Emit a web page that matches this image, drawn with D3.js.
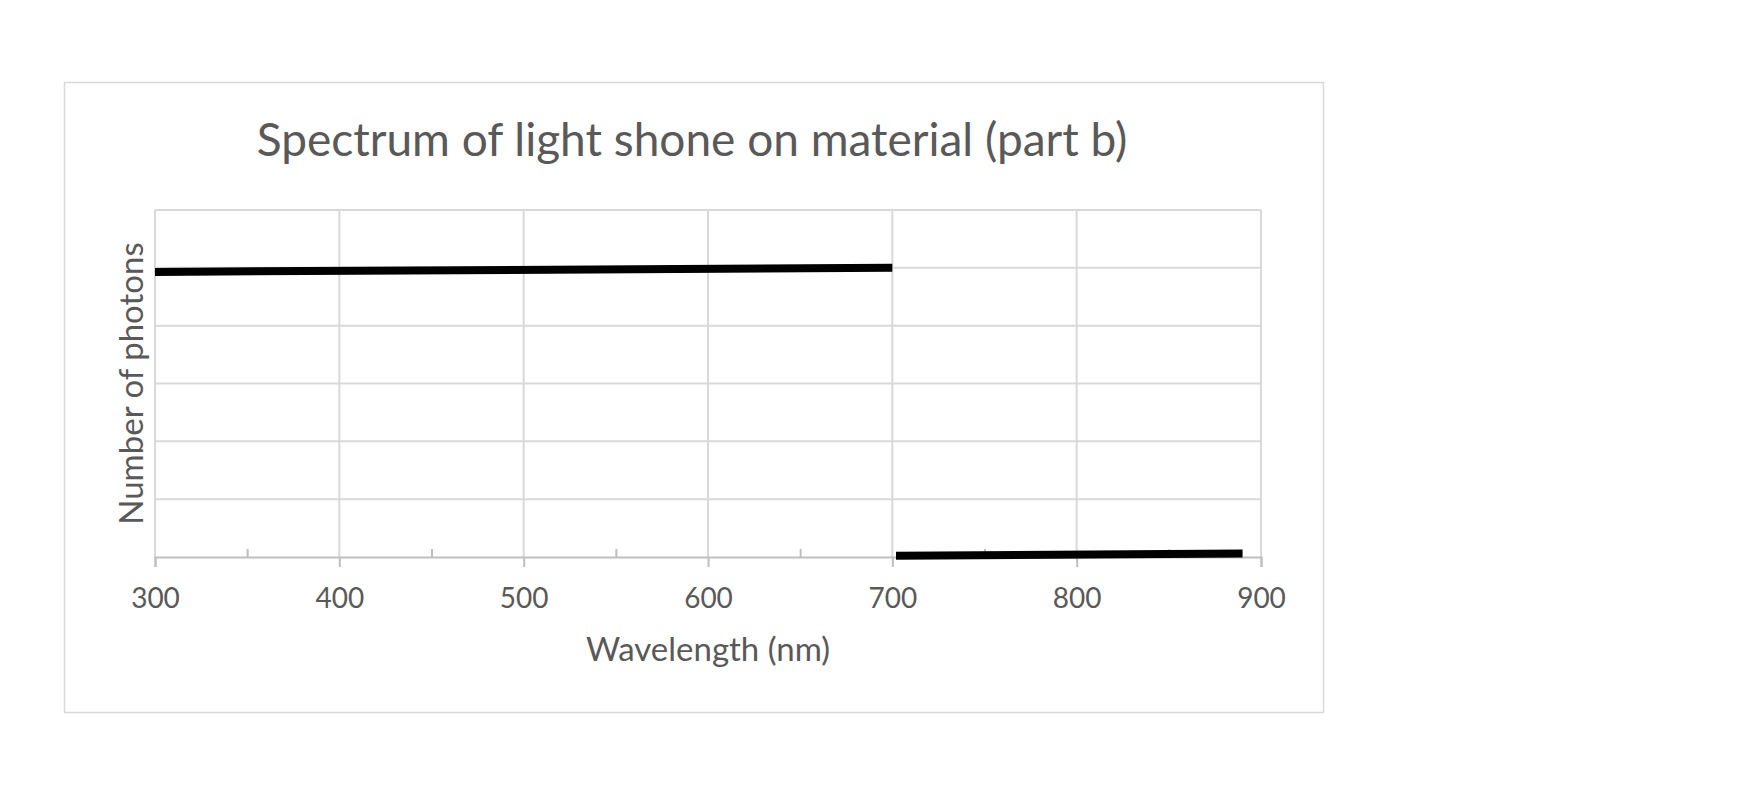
<!DOCTYPE html>
<html>
<head>
<meta charset="utf-8">
<script src="https://cdn.jsdelivr.net/npm/d3@7"></script>
<style>
  html, body { margin: 0; padding: 0; background: #ffffff; }
  svg { display: block; }
  text { font-family: Lato, "Open Sans", sans-serif; fill: #595959; }
</style>
</head>
<body>
<svg id="chart" width="1739" height="798"></svg>
<script>
// ---- data ----
const chartTitle = "Spectrum of light shone on material (part b)";
const xAxisTitle = "Wavelength (nm)";
const yAxisTitle = "Number of photons";
const xTickValues = [300, 400, 500, 600, 700, 800, 900];
const xMinorTickValues = [350, 450, 550, 650, 750, 850];
const yGridValues = [0, 1, 2, 3, 4, 5, 6];
// series: two separate segments of the spectrum
const visibleWavelengths = [300, 700];
const visiblePhotons = [4.93, 5.0];
const infraredWavelengths = [702, 890];
const infraredPhotons = [0.02, 0.06];

// ---- layout ----
const svg = d3.select("#chart");
const W = 1739, H = 798;
const frame = { x: 64, y: 82, w: 1259, h: 630 };
const plot = { left: 155, right: 1261, top: 210, bottom: 557 };

svg.append("rect").attr("x", 0).attr("y", 0).attr("width", W).attr("height", H).attr("fill", "#ffffff");
svg.append("rect")
  .attr("x", frame.x + 0.5).attr("y", frame.y + 0.5)
  .attr("width", frame.w).attr("height", frame.h)
  .attr("fill", "#ffffff").attr("stroke", "#d9d9d9").attr("stroke-width", 1.5);

const x = d3.scaleLinear().domain([300, 900]).range([plot.left, plot.right]);
const y = d3.scaleLinear().domain([0, 6]).range([plot.bottom, plot.top]);

// horizontal gridlines
svg.append("g")
  .selectAll("line").data(yGridValues.filter(v => v > 0)).join("line")
  .attr("x1", plot.left).attr("x2", plot.right)
  .attr("y1", d => y(d)).attr("y2", d => y(d))
  .attr("stroke", "#d9d9d9").attr("stroke-width", 2);

// vertical gridlines
svg.append("g")
  .selectAll("line").data(xTickValues).join("line")
  .attr("x1", d => x(d)).attr("x2", d => x(d))
  .attr("y1", plot.top).attr("y2", plot.bottom)
  .attr("stroke", "#d9d9d9").attr("stroke-width", 2);

// x axis (major ticks below)
const xAxis = d3.axisBottom(x).tickValues(xTickValues).tickSize(10).tickPadding(21).tickFormat(d3.format("d"));
const gx = svg.append("g").attr("transform", `translate(0,${plot.bottom})`).call(xAxis);
gx.select(".domain").attr("stroke", "#bfbfbf").attr("stroke-width", 2);
gx.selectAll(".tick line").attr("stroke", "#bfbfbf").attr("stroke-width", 2);
gx.selectAll(".tick text").attr("font-family", "Lato, sans-serif").attr("font-size", 28).attr("fill", "#595959");

// minor ticks (above axis)
const minorAxis = d3.axisTop(x).tickValues(xMinorTickValues).tickSize(8).tickFormat("");
const gm = svg.append("g").attr("transform", `translate(0,${plot.bottom})`).call(minorAxis);
gm.select(".domain").remove();
gm.selectAll(".tick line").attr("stroke", "#bfbfbf").attr("stroke-width", 2);

// lines
const line = d3.line().x(d => x(d[0])).y(d => y(d[1]));
const seg1 = visibleWavelengths.map((w, i) => [w, visiblePhotons[i]]);
const seg2 = infraredWavelengths.map((w, i) => [w, infraredPhotons[i]]);
[seg1, seg2].forEach(s => {
  svg.append("path").datum(s).attr("d", line)
    .attr("fill", "none").attr("stroke", "#000000").attr("stroke-width", 8)
    .attr("stroke-linecap", "butt");
});

// titles
svg.append("text").attr("x", 692).attr("y", 156)
  .attr("text-anchor", "middle").attr("font-size", 46).text(chartTitle);
svg.append("text").attr("x", (plot.left + plot.right) / 2).attr("y", 661)
  .attr("text-anchor", "middle").attr("font-size", 33).text(xAxisTitle);
svg.append("text").attr("transform", `translate(143,${(plot.top + plot.bottom) / 2}) rotate(-90)`)
  .attr("text-anchor", "middle").attr("font-size", 33).text(yAxisTitle);
</script>
</body>
</html>
